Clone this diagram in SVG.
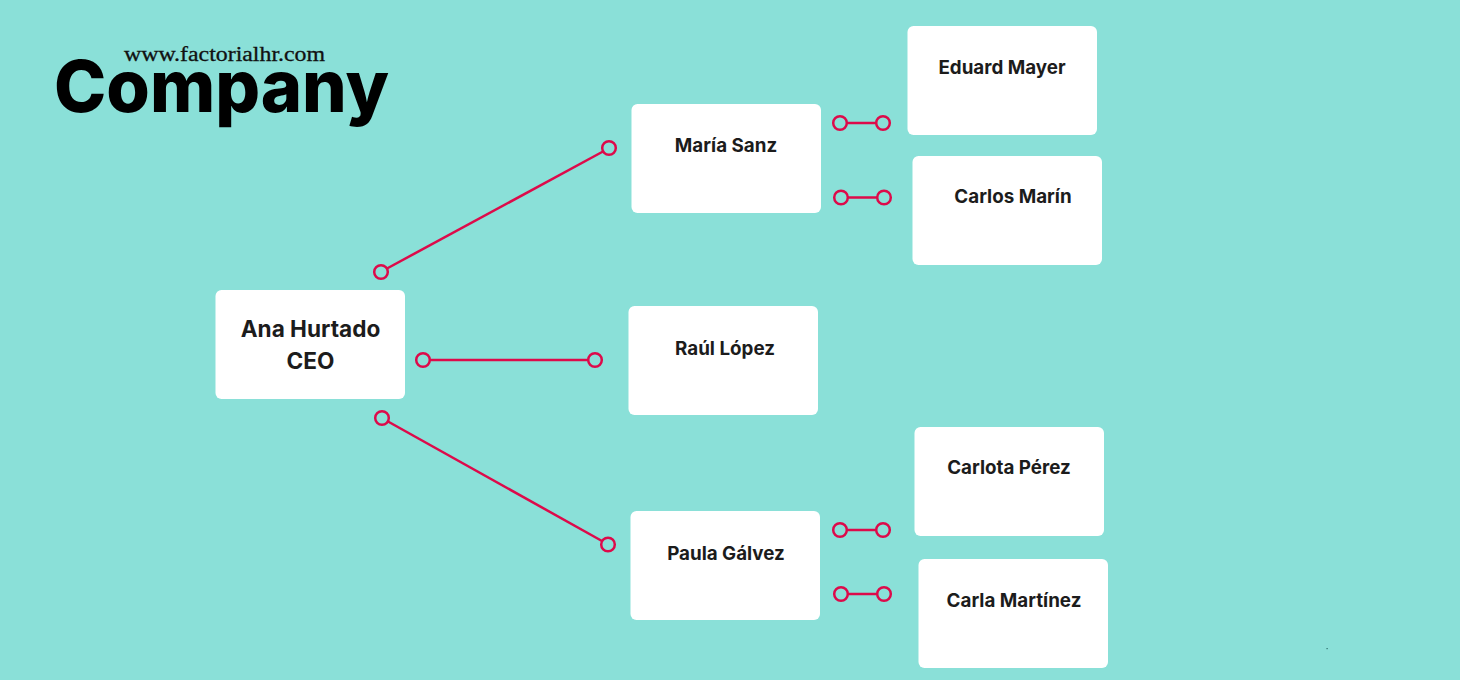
<svg xmlns="http://www.w3.org/2000/svg" width="1460" height="680" viewBox="0 0 1460 680">
<style>
.box{fill:#fff}
.name{font-family:"Inter","Liberation Sans",sans-serif;font-weight:700;font-size:18.800px;fill:#1c1c1c;text-anchor:middle}
.ceo{font-size:22.600px}
.link line{stroke:#dd0a4a;stroke-width:2.500}
.link circle{fill:none;stroke:#dd0a4a;stroke-width:2.500}
</style>
<rect width="1460" height="680" fill="#8ae0d8"/>
<g id="title">
<text x="54" y="112" font-family="Inter,'Liberation Sans',sans-serif" font-weight="800" font-size="72" fill="#000" textLength="335" lengthAdjust="spacingAndGlyphs">Company</text>
<text x="124" y="61" font-family="'Liberation Serif',serif" font-size="20.500" fill="#111" stroke="#111" stroke-width="0.300" textLength="201" lengthAdjust="spacingAndGlyphs">www.factorialhr.com</text>
</g>
<g id="connectors" class="link">
<line x1="387" y1="268.500" x2="603" y2="151.500"/><circle cx="381" cy="272" r="6.800"/><circle cx="609" cy="148" r="6.800"/>
<line x1="430" y1="360" x2="588" y2="360"/><circle cx="423" cy="360" r="6.800"/><circle cx="595" cy="360" r="6.800"/>
<line x1="388" y1="421.500" x2="602" y2="541"/><circle cx="382" cy="418" r="6.800"/><circle cx="608" cy="544.500" r="6.800"/>
<line x1="847" y1="123" x2="876" y2="123"/><circle cx="840" cy="123" r="6.800"/><circle cx="883" cy="123" r="6.800"/>
<line x1="848" y1="197.500" x2="877" y2="197.500"/><circle cx="841" cy="197.500" r="6.800"/><circle cx="884" cy="197.500" r="6.800"/>
<line x1="847" y1="530" x2="876" y2="530"/><circle cx="840" cy="530" r="6.800"/><circle cx="883" cy="530" r="6.800"/>
<line x1="848" y1="594" x2="877" y2="594"/><circle cx="841" cy="594" r="6.800"/><circle cx="884" cy="594" r="6.800"/>
</g>
<g id="ana"><rect class="box" x="215.500" y="290" width="189.500" height="109" rx="6"/><text class="name ceo" x="310.500" y="336.500">Ana Hurtado</text><text class="name ceo" x="310.500" y="368.500">CEO</text></g>
<g id="maria"><rect class="box" x="631.500" y="104" width="189.500" height="109" rx="6"/><text class="name" x="726" y="152">María Sanz</text></g>
<g id="raul"><rect class="box" x="628.500" y="306" width="189.500" height="109" rx="6"/><text class="name" x="725" y="355">Raúl López</text></g>
<g id="paula"><rect class="box" x="630.500" y="511" width="189.500" height="109" rx="6"/><text class="name" x="726" y="560">Paula Gálvez</text></g>
<g id="eduard"><rect class="box" x="907.500" y="26" width="189.500" height="109" rx="6"/><text class="name" x="1002" y="74">Eduard Mayer</text></g>
<g id="carlos"><rect class="box" x="912.500" y="156" width="189.500" height="109" rx="6"/><text class="name" x="1013" y="203">Carlos Marín</text></g>
<g id="carlota"><rect class="box" x="914.500" y="427" width="189.500" height="109" rx="6"/><text class="name" x="1009" y="474">Carlota Pérez</text></g>
<g id="carla"><rect class="box" x="918.500" y="559" width="189.500" height="109" rx="6"/><text class="name" x="1014" y="607">Carla Martínez</text></g>
<rect x="1326.500" y="648" width="1.200" height="1.200" fill="#2a6a68"/>
</svg>
